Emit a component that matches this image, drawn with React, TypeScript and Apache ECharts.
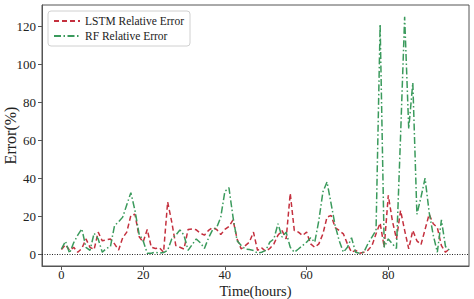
import React, { useEffect, useRef } from "react";
import * as echarts from "echarts";

// Hourly relative error (%) of the two forecasting models
const lstmError = [
  2.4, 5, 2, 3.6, 1, 3, 8, 3.6, 2.4, 11.6, 7, 7.5, 8, 5.4, 2.2, 8.6, 11.6, 20.4, 21, 9.3,
  6.3, 13, 3.6, 3, 3.3, 1, 27.5, 17, 4.5, 3.6, 2.7, 13, 13.3, 12.8, 11, 10, 12.5, 14, 13, 10.3,
  13, 14.6, 18, 8, 2.7, 4.5, 6.3, 11.6, 2, 3.3, 1.5, 3, 5.4, 10, 12.4, 8, 32, 12.4, 11.6, 9.8,
  11.6, 5.4, 3.6, 5.4, 10.7, 19.5, 20.4, 14, 12.4, 10.7, 5.4, 1, 2, 0.5, 1, 2, 4.5, 10.7, 16.4, 3.6,
  31, 17.5, 8, 23, 12.5, 2.8, 12.5, 7, 5, 13, 21, 16, 14, 4.5, 1, 2.8,
];
const rfError = [
  2.7, 6.8, 0.5, 6, 10, 13.3, 3.6, 2, 11, 8, 1, 3, 4, 15, 17, 19.5, 26, 32.4, 23, 10.7,
  7, 0.5, 0.5, 1, 0.5, 0.8, 2, 8, 10, 12.8, 10, 2, 5, 8, 6, 3, 8.5, 12.8, 14, 19.5,
  33, 35, 19.5, 7, 4.5, 2.7, 2.4, 1.9, 0.5, 1, 2, 6.3, 8, 16, 9, 11.6, 3.6, 1, 2.7, 4.5,
  6.3, 8.6, 6.3, 17.7, 32.8, 38, 26.6, 15, 7, 1, 3.6, 8.6, 1, 0.5, 1, 5.4, 9, 12.5, 121, 3.6,
  8, 5.4, 3, 62, 125, 66, 90.3, 21, 30, 40, 22, 10, 1, 18, 4, 2,
];
const xTicks = [0, 20, 40, 60, 80];
const yTicks = [0, 20, 40, 60, 80, 100, 120];
const seriesNames = ["LSTM Relative Error", "RF Relative Error"];

const serif = "Liberation Serif";

const toPairs = (values: number[]) => values.map((v, i) => [i, v]);

export default function App() {
  const ref = useRef<HTMLDivElement>(null);

  useEffect(() => {
    if (!ref.current) return;
    const chart = echarts.init(ref.current, undefined, { renderer: "svg" });
    chart.setOption({
      animation: false,
      backgroundColor: "#ffffff",
      textStyle: { fontFamily: serif },
      grid: {
        left: 42,
        top: 5,
        right: 5,
        bottom: 33,
        outerBoundsMode: "none",
        containLabel: false,
        show: true,
        borderColor: "#555",
        borderWidth: 1,
        backgroundColor: "transparent",
      },
      legend: {
        left: 48,
        top: 11,
        orient: "vertical",
        padding: [4, 6, 4, 5],
        itemGap: 3,
        itemWidth: 26,
        itemHeight: 12,
        itemStyle: { opacity: 0 },
        borderColor: "#d0d0d0",
        borderWidth: 1,
        borderRadius: 3,
        backgroundColor: "#fff",
        textStyle: { fontFamily: serif, fontSize: 11.5, color: "#222" },
        data: seriesNames,
      },
      xAxis: {
        type: "value",
        min: -4.75,
        max: 99.75,
        name: "Time(hours)",
        nameLocation: "middle",
        nameGap: 18,
        nameMoveOverlap: false,
        nameTextStyle: { fontFamily: serif, fontSize: 14.5, lineHeight: 14, color: "#222" },
        axisLine: { show: true, onZero: false, lineStyle: { color: "#555" } },
        axisTick: { show: true, inside: false, length: 4, customValues: xTicks, lineStyle: { color: "#555" } },
        axisLabel: {
          customValues: xTicks,
          margin: 3,
          fontFamily: serif,
          fontSize: 12.5,
          lineHeight: 12,
          color: "#222",
        },
        splitLine: { show: false },
      },
      yAxis: {
        type: "value",
        min: -6.25,
        max: 131.25,
        name: "Error(%)",
        nameLocation: "middle",
        nameGap: 24,
        nameMoveOverlap: false,
        nameTextStyle: { fontFamily: serif, fontSize: 16, color: "#222" },
        axisLine: { show: true, onZero: false, lineStyle: { color: "#555" } },
        axisTick: { show: true, inside: false, length: 4, customValues: yTicks, lineStyle: { color: "#555" } },
        axisLabel: { customValues: yTicks, margin: 6, fontFamily: serif, fontSize: 13, color: "#222" },
        splitLine: { show: false },
      },
      series: [
        {
          name: seriesNames[0],
          type: "line",
          data: toPairs(lstmError),
          symbol: "none",
          color: "#c4303e",
          lineStyle: { width: 1.5, type: [5, 3], color: "#c4303e" },
          markLine: {
            silent: true,
            symbol: "none",
            label: { show: false },
            lineStyle: { color: "#222", type: [1, 1.5], width: 1 },
            data: [{ yAxis: 0 }],
          },
        },
        {
          name: seriesNames[1],
          type: "line",
          data: toPairs(rfError),
          symbol: "none",
          color: "#3a9a5c",
          lineStyle: { width: 1.5, type: [7, 2.5, 1.5, 2.5], color: "#3a9a5c" },
        },
      ],
    });
    return () => chart.dispose();
  }, []);

  return (
    <div
      ref={ref}
      style={{ position: "fixed", left: 0, top: 0, width: 474, height: 299, background: "#fff" }}
    />
  );
}
